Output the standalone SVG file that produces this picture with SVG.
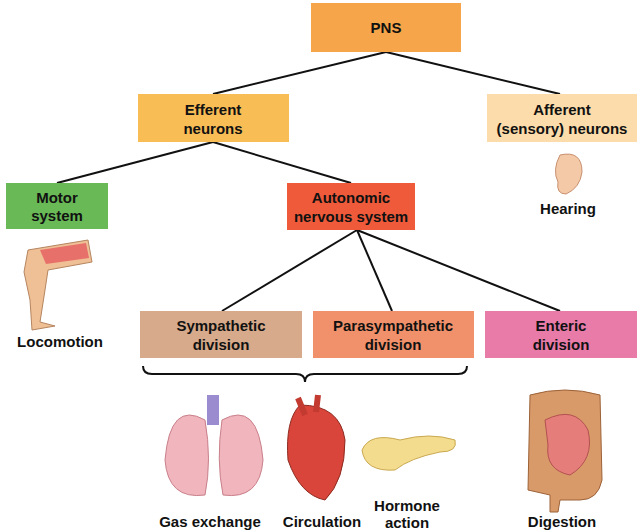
<svg xmlns="http://www.w3.org/2000/svg" width="640" height="532" viewBox="0 0 640 532">
<style>
.t{font-family:"Liberation Sans",Arial,sans-serif;font-weight:bold;font-size:15px;fill:#111;text-anchor:middle}
.c line,.c path{stroke:#111;stroke-width:2;fill:none}
</style>
<rect width="640" height="532" fill="#fff"/>
<g class="c" id="connectors">
<line x1="386" y1="52" x2="213" y2="94"/>
<line x1="386" y1="52" x2="560" y2="94"/>
<line x1="213" y1="142" x2="57" y2="183"/>
<line x1="213" y1="142" x2="351" y2="183"/>
<line x1="357" y1="230" x2="222" y2="311"/>
<line x1="357" y1="230" x2="392" y2="311"/>
<line x1="357" y1="230" x2="560" y2="311"/>
<path d="M143 366 Q143 374 152 374 L296 374 Q305 374 305 382 Q305 374 314 374 L458 374 Q467 374 467 366" stroke-width="1.5"/>
</g>
<g id="pns"><rect x="311" y="3" width="150" height="49" fill="#f7a54a"/><text class="t" x="386" y="33">PNS</text></g>
<g id="efferent"><rect x="138" y="94" width="151" height="48" fill="#f9bd56"/><text class="t" x="213" y="115">Efferent</text><text class="t" x="213" y="134">neurons</text></g>
<g id="afferent"><rect x="487" y="94" width="150" height="48" fill="#fcdcaa"/><text class="t" x="562" y="115">Afferent</text><text class="t" x="562" y="134">(sensory) neurons</text></g>
<g id="motor"><rect x="6" y="183" width="102" height="46" fill="#69b957"/><text class="t" x="57" y="203">Motor</text><text class="t" x="57" y="221">system</text></g>
<g id="autonomic"><rect x="287" y="183" width="128" height="47" fill="#ee5a3a"/><text class="t" x="351" y="203">Autonomic</text><text class="t" x="351" y="222">nervous system</text></g>
<g id="sympathetic"><rect x="140" y="311" width="162" height="47" fill="#d6aa8a"/><text class="t" x="221" y="331">Sympathetic</text><text class="t" x="221" y="350">division</text></g>
<g id="parasympathetic"><rect x="313" y="311" width="161" height="47" fill="#f1916b"/><text class="t" x="393" y="331">Parasympathetic</text><text class="t" x="393" y="350">division</text></g>
<g id="enteric"><rect x="485" y="311" width="152" height="47" fill="#e87ba8"/><text class="t" x="561" y="331">Enteric</text><text class="t" x="561" y="350">division</text></g>
<g id="leg">
<path d="M28 250 L88 240 L92 262 L48 270 L45 290 L40 322 L55 326 L32 330 L30 300 L24 272 Z" fill="#efbf95" stroke="#b58560"/>
<path d="M40 250 L86 243 L89 258 L46 264 Z" fill="#e8706a"/>
<text class="t" x="60" y="347">Locomotion</text>
</g>
<g id="ear">
<path d="M560 155 Q582 150 582 172 Q580 188 566 194 Q556 194 558 182 Q552 170 560 155 Z" fill="#f4c9a8" stroke="#c89070"/>
<text class="t" x="568" y="214">Hearing</text>
</g>
<g id="lungs">
<rect x="207" y="395" width="12" height="30" fill="#9a8ccf"/>
<path d="M205 420 Q170 400 165 460 Q168 500 205 495 Q212 460 205 420 Z" fill="#f0b5bd" stroke="#c9808a"/>
<path d="M222 420 Q258 400 263 460 Q260 500 223 495 Q216 460 222 420 Z" fill="#f0b5bd" stroke="#c9808a"/>
<text class="t" x="210" y="527">Gas exchange</text>
</g>
<g id="heart">
<path d="M300 405 Q285 420 288 460 Q300 495 325 500 Q345 480 345 440 Q340 405 300 405 Z" fill="#d9453a" stroke="#8e2a20"/>
<path d="M298 398 L305 415 M318 395 L316 412" stroke="#c23a30" stroke-width="6"/>
<text class="t" x="322" y="527">Circulation</text>
</g>
<g id="pancreas">
<path d="M362 450 Q370 432 400 440 Q430 432 455 440 Q458 452 440 452 Q410 458 395 470 Q365 472 362 450 Z" fill="#f3dc8e" stroke="#c9a850"/>
<text class="t" x="407" y="511" font-size="14">Hormone</text><text class="t" x="407" y="528" font-size="14">action</text>
</g>
<g id="intestine">
<path d="M530 395 Q565 385 600 395 L602 480 Q598 500 580 500 L560 500 L558 512 L550 512 L550 495 L528 490 Z" fill="#d99a6a" stroke="#9c6238"/>
<path d="M545 420 Q575 405 588 430 Q595 460 570 475 Q545 470 548 445 Z" fill="#e57e7a" stroke="#b25050"/>
<text class="t" x="562" y="527">Digestion</text>
</g>
</svg>
